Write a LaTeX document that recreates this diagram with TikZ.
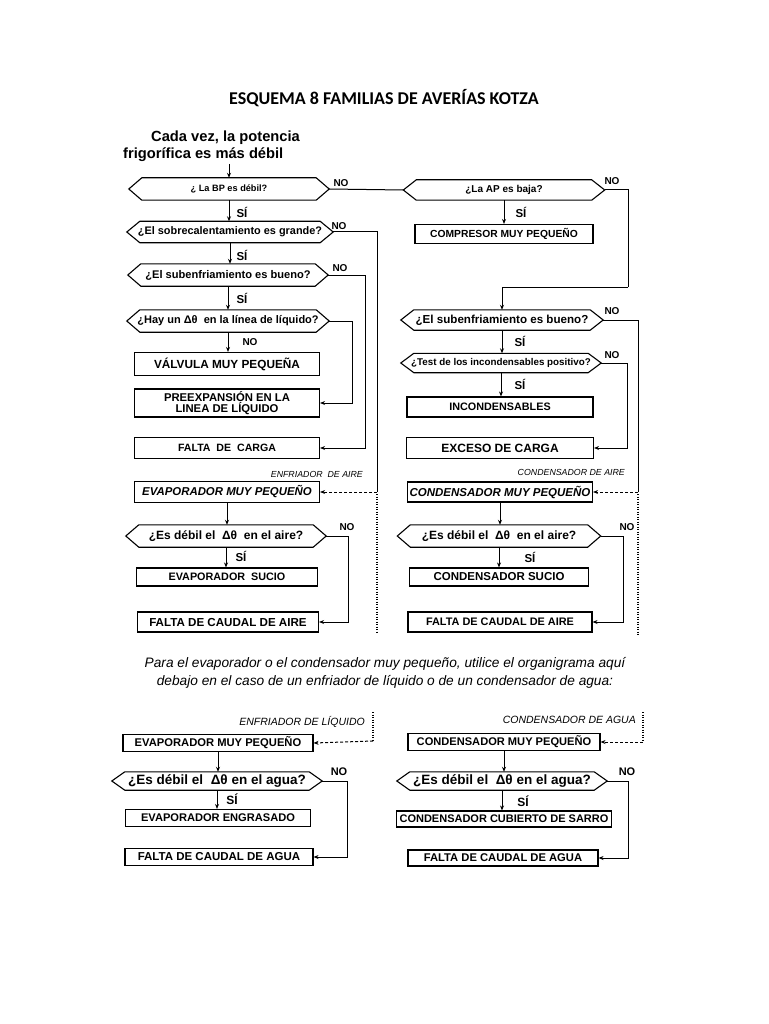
\documentclass[tikz,border=0pt]{standalone}
\usepackage{fontspec}
\setmainfont{Liberation Sans}
\newfontfamily\titlefont{Carlito}
\usetikzlibrary{arrows.meta}
\newcommand\fs[1]{\fontsize{#1}{#1}\selectfont}
\newcommand\hexdraw[1]{\draw[shape line] (#1.west) -- ([xshift=13pt]#1.north west) -- ([xshift=-13pt]#1.north east) -- (#1.east) -- ([xshift=-13pt]#1.south east) -- ([xshift=13pt]#1.south west) -- cycle;}
\tikzset{
  shape line/.style={line width=1.1pt},
  box/.style={draw, line width=1.1pt, inner sep=0pt, font=\bfseries\fs{11}, align=center},
  ibox/.style={box, font=\bfseries\itshape\fs{11.4}},
  dec/.style={inner sep=0pt, font=\bfseries\fs{11}},
  conn/.style={line width=1pt},
  arr/.style={conn, -{Stealth[length=5pt,width=4pt]}},
  darr/.style={conn, dash pattern=on 3pt off 2pt, -{Stealth[length=5pt,width=4pt]}},
  dotline/.style={line width=1.2pt, dash pattern=on 1pt off 1.5pt},
  lbl/.style={font=\bfseries\fs{10}, inner sep=0pt},
  si/.style={font=\bfseries\fs{11.5}, inner sep=0pt},
  tag/.style={font=\itshape\fs{8.8}, inner sep=0pt, anchor=east},
}
\begin{document}
\begin{tikzpicture}[x=1pt,y=-1pt]
\useasboundingbox (0,0) rectangle (768,1024);
% title
\node[font=\titlefont\bfseries\fs{18}] (title) at (384,98) {ESQUEMA 8 FAMILIAS DE AVERÍAS KOTZA};
\node[font=\bfseries\fs{14.7}, anchor=west, inner sep=0pt] (cada1) at (151,138) {Cada vez, la potencia};
\node[font=\bfseries\fs{14.7}, anchor=west, inner sep=0pt] (cada2) at (123,155) {frigorífica es más débil};
\coordinate (start) at (229,164);

% ---------- left column ----------
\node[dec, minimum width=200pt, minimum height=22pt, font=\bfseries\fs{9.2}] (bp) at (229,189) {¿ La BP es débil?};
\node[dec, minimum width=206pt, minimum height=21pt, font=\bfseries\fs{10.9}] (sob) at (230,232) {¿El sobrecalentamiento es grande?};
\node[dec, minimum width=200pt, minimum height=22pt, font=\bfseries\fs{11.1}] (subL) at (228,275) {¿El subenfriamiento es bueno?};
\node[dec, minimum width=202pt, minimum height=22pt, font=\bfseries\fs{11}] (hay) at (228,321) {¿Hay un Δθ\ \ en la línea de líquido?};
\node[box, minimum width=185pt, minimum height=23pt, font=\bfseries\fs{11.8}] (val) at (227,364) {VÁLVULA MUY PEQUEÑA};
\node[box, minimum width=185pt, minimum height=28pt, font=\bfseries\fs{11.3}] (pre) at (227,403) {PREEXPANSIÓN EN LA\\LINEA DE LÍQUIDO};
\node[box, minimum width=185pt, minimum height=21pt, font=\bfseries\fs{10.6}] (fcL) at (227,448) {FALTA\ \ DE\ \ CARGA};
\node[tag] (tagEA) at (363,474) {ENFRIADOR\ \ DE AIRE};
\node[ibox, minimum width=185pt, minimum height=21pt] (evap) at (227,492) {EVAPORADOR MUY PEQUEÑO};
\node[dec, minimum width=200pt, minimum height=22pt, font=\bfseries\fs{12}] (aireL) at (226,536) {¿Es débil el\ \ Δθ\ \ en el aire?};
\node[box, minimum width=181pt, minimum height=18pt, font=\bfseries\fs{10.8}] (esL) at (227,577) {EVAPORADOR\ \ SUCIO};
\node[box, minimum width=181pt, minimum height=20pt, font=\bfseries\fs{11.6}] (fcaL) at (228,622) {FALTA DE CAUDAL DE AIRE};

\foreach \n in {bp,sob,subL,hay,aireL} {\hexdraw{\n}}

\draw[arr] (start) -- (bp.north);
\draw[arr] (bp.south) -- (bp.south |- sob.north);
\draw[arr] (sob.south) -- (sob.south |- subL.north);
\draw[arr] (subL.south) -- (subL.south |- hay.north);
\draw[arr] (hay.south) -- (hay.south |- val.north);
\draw[conn] (sob.east) -- (377,232) -- (377,492);
\draw[darr] (377,492) -- (evap.east);
\draw[dotline] (377,494) -- (377,634);
\draw[arr] (subL.east) -- (365,275) |- (fcL.east);
\draw[arr] (hay.east) -- (352,321) |- (pre.east);
\draw[arr] (evap.south) -- (evap.south |- aireL.north);
\draw[arr] (aireL.south) -- (aireL.south |- esL.north);
\draw[arr] (aireL.east) -- (348,536) |- (fcaL.east);

\node[lbl] (noBP) at (341,183) {NO};
\node[lbl] (noSob) at (339,226) {NO};
\node[lbl] (noSubL) at (340,268) {NO};
\node[lbl] (noHay) at (250,342) {NO};
\node[lbl] (noAireL) at (347,527) {NO};
\node[si] (s1) at (242,212) {SÍ};
\node[si] (s2) at (242,255) {SÍ};
\node[si] (s3) at (242,298) {SÍ};
\node[si] (s4) at (241,556) {SÍ};

% ---------- right column ----------
\node[dec, minimum width=201pt, minimum height=20pt, font=\bfseries\fs{10}] (ap) at (504,190) {¿La AP es baja?};
\node[box, minimum width=178pt, minimum height=19pt, font=\bfseries\fs{10.3}] (comp) at (504,234) {COMPRESOR MUY PEQUEÑO};
\node[dec, minimum width=202pt, minimum height=20pt, font=\bfseries\fs{11.6}] (subR) at (502,320) {¿El subenfriamiento es bueno?};
\node[dec, minimum width=200pt, minimum height=19pt, font=\bfseries\fs{9.8}] (test) at (501,363) {¿Test de los incondensables positivo?};
\node[box, minimum width=186pt, minimum height=20pt, font=\bfseries\fs{10.8}] (inc) at (500,407) {INCONDENSABLES};
\node[box, minimum width=187pt, minimum height=21pt, font=\bfseries\fs{12}] (exc) at (500,448) {EXCESO DE CARGA};
\node[tag] (tagCA) at (625,472) {CONDENSADOR DE AIRE};
\node[ibox, minimum width=185pt, minimum height=20pt, font=\bfseries\itshape\fs{11.5}] (cond) at (500,492) {CONDENSADOR MUY PEQUEÑO};
\node[dec, minimum width=203pt, minimum height=22pt, font=\bfseries\fs{12}] (aireR) at (499,536) {¿Es débil el\ \ Δθ\ \ en el aire?};
\node[box, minimum width=179pt, minimum height=18pt, font=\bfseries\fs{11.5}] (csR) at (499,577) {CONDENSADOR SUCIO};
\node[box, minimum width=184pt, minimum height=20pt, font=\bfseries\fs{10.9}] (fcaR) at (500,622) {FALTA DE CAUDAL DE AIRE};

\foreach \n in {ap,subR,test,aireR} {\hexdraw{\n}}

\draw[conn] (bp.east) -- (ap.west);
\draw[arr] (ap.south) -- (ap.south |- comp.north);
\draw[conn] (ap.east) -- (628,190) -- (628,287);
\draw[arr] (628,287) -| (subR.north);
\draw[arr] (subR.south) -- (subR.south |- test.north);
\draw[arr] (test.south) -- (test.south |- inc.north);
\draw[conn] (subR.east) -- (638,320) -- (638,492);
\draw[darr] (638,492) -- (cond.east);
\draw[dotline] (638,494) -- (638,636);
\draw[arr] (test.east) -- (627,363) |- (exc.east);
\draw[arr] (cond.south) -- (cond.south |- aireR.north);
\draw[arr] (aireR.south) -- (aireR.south |- csR.north);
\draw[arr] (aireR.east) -- (623,536) |- (fcaR.east);

\node[lbl] (noAP) at (612,181) {NO};
\node[lbl] (noSubR) at (612,311) {NO};
\node[lbl] (noTest) at (612,355) {NO};
\node[lbl] (noAireR) at (627,527) {NO};
\node[si] (s5) at (521,212) {SÍ};
\node[si] (s6) at (520,341) {SÍ};
\node[si] (s7) at (520,384) {SÍ};
\node[si] (s8) at (530,557) {SÍ};

% ---------- paragraph ----------
\node[font=\itshape\fs{13.7}, align=center, inner sep=0pt] (para) at (385,673) {Para el evaporador o el condensador muy pequeño, utilice el organigrama aquí\\[4pt]debajo en el caso de un enfriador de líquido o de un condensador de agua:};

% ---------- bottom left ----------
\node[tag, font=\itshape\fs{10.5}] (tagEL) at (365,722) {ENFRIADOR DE LÍQUIDO};
\node[box, minimum width=190pt, minimum height=17pt, font=\bfseries\fs{11.2}] (evap2) at (218,743) {EVAPORADOR MUY PEQUEÑO};
\node[dec, minimum width=210pt, minimum height=18pt, font=\bfseries\fs{13.5}] (agL) at (217,781) {¿Es débil el\ \ Δθ en el agua?};
\node[box, minimum width=185pt, minimum height=17pt, font=\bfseries\fs{11.1}] (eng) at (218,818) {EVAPORADOR ENGRASADO};
\node[box, minimum width=188pt, minimum height=17pt, font=\bfseries\fs{11.5}] (fagL) at (219,857) {FALTA DE CAUDAL DE AGUA};
\hexdraw{agL}
\draw[dotline] (373,712) -- (373,741);
\draw[darr] (373,741) -- (evap2.east);
\draw[arr] (evap2.south) -- (evap2.south |- agL.north);
\draw[arr] (agL.south) -- (agL.south |- eng.north);
\draw[arr] (agL.east) -- (347,781) |- (fagL.east);
\node[lbl, font=\bfseries\fs{11}] (noAgL) at (339,772) {NO};
\node[si, font=\bfseries\fs{12}] (s9) at (232,799) {SÍ};

% ---------- bottom right ----------
\node[tag, font=\itshape\fs{10.5}] (tagCAg) at (636,720) {CONDENSADOR DE AGUA};
\node[box, minimum width=192pt, minimum height=17pt, font=\bfseries\fs{11.1}] (cond2) at (504,742) {CONDENSADOR MUY PEQUEÑO};
\node[dec, minimum width=210pt, minimum height=18pt, font=\bfseries\fs{13.5}] (agR) at (502,781) {¿Es débil el\ \ Δθ en el agua?};
\node[box, minimum width=215pt, minimum height=16pt, font=\bfseries\fs{11}] (sarro) at (504,819) {CONDENSADOR CUBIERTO DE SARRO};
\node[box, minimum width=190pt, minimum height=16pt, font=\bfseries\fs{11.2}] (fagR) at (503,858) {FALTA DE CAUDAL DE AGUA};
\hexdraw{agR}
\draw[dotline] (643,712) -- (643,742);
\draw[darr] (643,742) -- (cond2.east);
\draw[arr] (cond2.south) -- (cond2.south |- agR.north);
\draw[arr] (agR.south) -- (agR.south |- sarro.north);
\draw[arr] (agR.east) -- (628,781) |- (fagR.east);
\node[lbl, font=\bfseries\fs{11}] (noAgR) at (627,772) {NO};
\node[si, font=\bfseries\fs{12}] (s10) at (523,801) {SÍ};
\end{tikzpicture}
\end{document}
